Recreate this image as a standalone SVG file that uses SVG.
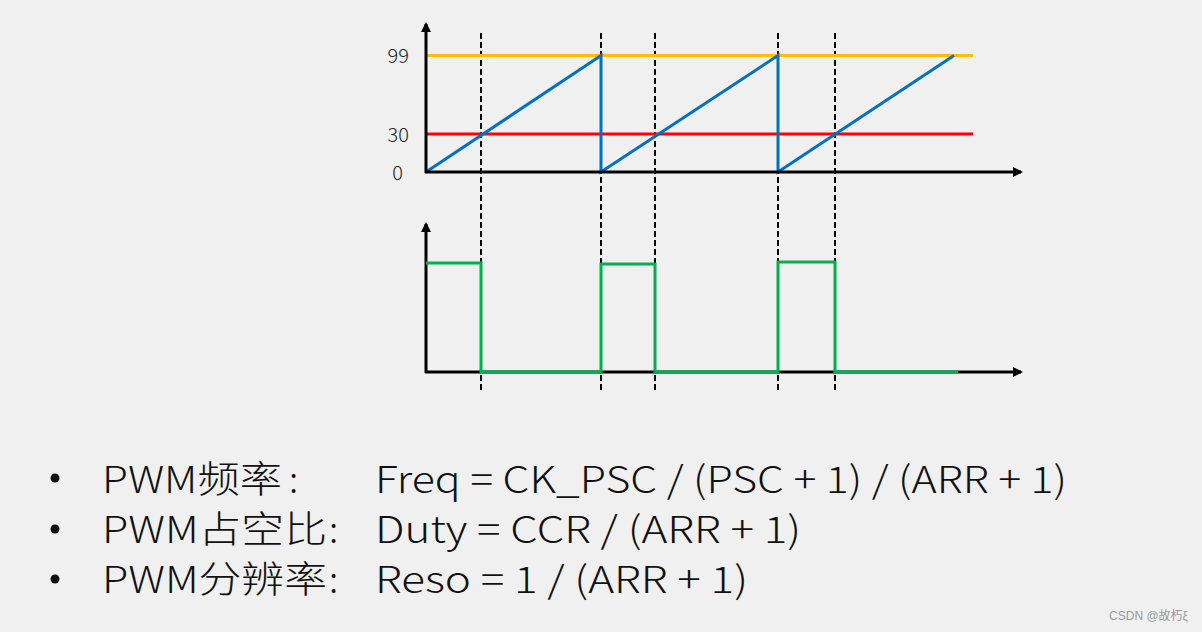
<svg xmlns="http://www.w3.org/2000/svg" width="1202" height="632" viewBox="0 0 1202 632">
<style>
.axis{stroke:#000;stroke-width:3;fill:none}
.dash{stroke:#000;stroke-width:2;stroke-dasharray:6 3;fill:none}
.lbl{font-family:"Noto Sans CJK SC","Liberation Sans",sans-serif;font-size:20px;font-weight:300;fill:#222}
.big{font-family:"Noto Sans CJK SC","Liberation Sans",sans-serif;font-size:37px;font-weight:300;fill:#111}
</style>
<defs>
<marker id="arr" markerWidth="10" markerHeight="10" refX="8" refY="5" orient="auto" markerUnits="userSpaceOnUse">
<path d="M0,0 L10,5 L0,10 z" fill="#000"/>
</marker>
</defs>
<rect width="1202" height="632" fill="#f0f0f0"/>
<g id="guides">
<line class="dash" x1="481" y1="33" x2="481" y2="392"/>
<line class="dash" x1="601" y1="33" x2="601" y2="392"/>
<line class="dash" x1="655" y1="33" x2="655" y2="392"/>
<line class="dash" x1="778" y1="33" x2="778" y2="392"/>
<line class="dash" x1="835" y1="33" x2="835" y2="392"/>
</g>
<g id="top-chart">
<line x1="426" y1="55.5" x2="973" y2="55.5" stroke="#FFC000" stroke-width="3"/>
<line x1="426" y1="134" x2="973" y2="134" stroke="#FF0000" stroke-width="3"/>
<polyline points="426,172 601,55.5 601,172 778,55.5 778,172 954,55.5" fill="none" stroke="#0070C0" stroke-width="3" stroke-linejoin="miter"/>
<line class="axis" x1="426" y1="173" x2="426" y2="24" marker-end="url(#arr)"/>
<line class="axis" x1="425" y1="172" x2="1021" y2="172" marker-end="url(#arr)"/>
<text class="lbl" x="409" y="63" text-anchor="end">99</text>
<text class="lbl" x="409" y="142" text-anchor="end">30</text>
<text class="lbl" x="403" y="180" text-anchor="end">0</text>
</g>
<g id="bottom-chart">
<line class="axis" x1="426" y1="373" x2="426" y2="224" marker-end="url(#arr)"/>
<line class="axis" x1="425" y1="372" x2="1021" y2="372" marker-end="url(#arr)"/>
<polyline points="426,263 481,263 481,372 601,372 601,264 655,264 655,372 778,372 778,262 835,262 835,372 958,372" fill="none" stroke="#00B050" stroke-width="3"/>
</g>
<g id="formulas">
<circle cx="55" cy="478" r="4.5" fill="#111"/>
<circle cx="55" cy="529" r="4.5" fill="#111"/>
<circle cx="55" cy="579" r="4.5" fill="#111"/>
<text class="big" x="102" y="493" textLength="180" lengthAdjust="spacingAndGlyphs">PWM频率</text>
<text class="big" x="289" y="493">:</text>
<text class="big" x="102" y="543" textLength="225" lengthAdjust="spacingAndGlyphs">PWM占空比</text>
<text class="big" x="329" y="543">:</text>
<text class="big" x="102" y="593" textLength="225" lengthAdjust="spacingAndGlyphs">PWM分辨率</text>
<text class="big" x="329" y="593">:</text>
<text class="big" x="375" y="493" textLength="692" lengthAdjust="spacingAndGlyphs">Freq = CK_PSC / (PSC + 1) / (ARR + 1)</text>
<text class="big" x="375" y="543" textLength="426" lengthAdjust="spacingAndGlyphs">Duty = CCR / (ARR + 1)</text>
<text class="big" x="375" y="593" textLength="373" lengthAdjust="spacingAndGlyphs">Reso = 1 / (ARR + 1)</text>
</g>
<text x="1188" y="620" text-anchor="end" font-family="'Liberation Sans','Noto Sans CJK SC',sans-serif" font-size="12" fill="#9a9a9a">CSDN @故朽ξ</text>
</svg>
